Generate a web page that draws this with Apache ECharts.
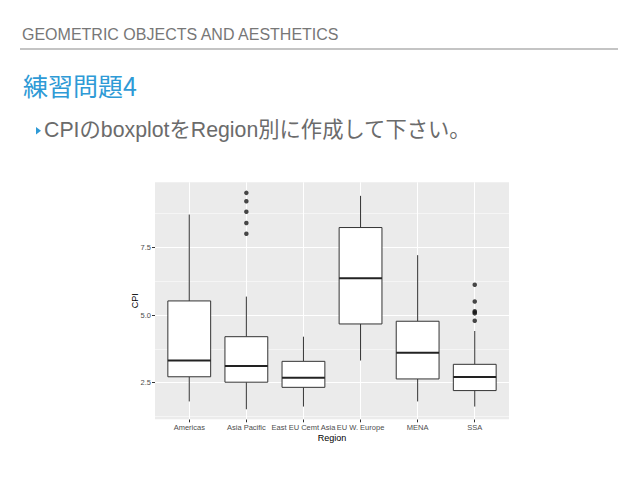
<!DOCTYPE html>
<html><head><meta charset="utf-8">
<script src="https://cdn.jsdelivr.net/npm/echarts@6/dist/echarts.min.js"></script>
<style>html,body{margin:0;padding:0;background:#fff}#c{width:638px;height:479px}</style>
</head><body><div id="c"></div>
<script>
const categories = ['Americas', 'Asia Pacific', 'East EU Cemt Asia', 'EU W. Europe', 'MENA', 'SSA'];
const whiskerLow  = [1.81, 1.52, 1.62, 3.32, 1.81, 1.62];
const q1          = [2.72, 2.52, 2.33, 4.67, 2.64, 2.21];
const median      = [3.32, 3.12, 2.68, 6.36, 3.61, 2.71];
const q3          = [5.52, 4.20, 3.29, 8.23, 4.77, 3.18];
const whiskerHigh = [8.71, 5.68, 4.20, 9.40, 7.21, 4.41];
const outliersAsiaPacific = [9.51, 9.20, 8.81, 8.40, 8.00];
const outliersSSA = [6.12, 5.50, 5.14, 5.10, 5.06, 4.79];
const yMajor = [2.5, 5.0, 7.5];
const yMinor = [1.25, 3.75, 6.25, 8.75];
const catPositions = categories.map((c, i) => i + 1);

const boxData = categories.map((c, i) => [i + 1, whiskerLow[i], q1[i], median[i], q3[i], whiskerHigh[i]]);
const outlierData = outliersAsiaPacific.map(v => [2, v]).concat(outliersSSA.map(v => [6, v]));

const FONT = "'Liberation Sans', Arial, sans-serif";
const CJK = "'Noto Sans CJK JP', sans-serif";
const MIX = "'Liberation Sans', 'Noto Sans CJK JP', sans-serif";

const chart = echarts.init(document.getElementById('c'), null, {renderer: 'svg'});
chart.setOption({
  animation: false,
  backgroundColor: '#fff',
  title: [
    {text: 'GEOMETRIC OBJECTS AND AESTHETICS', left: 22, top: 26, padding: 0,
     textStyle: {fontSize: 16, color: '#777', fontWeight: 'normal', fontFamily: FONT}},
    {text: '練習問題4', left: 23, top: 72.5, padding: 0,
     textStyle: {fontSize: 25, color: '#2e9ad6', fontWeight: 'normal', fontFamily: CJK}},
    {text: 'CPIのboxplotをRegion別に作成して下さい。', left: 44, top: 119.5, padding: 0,
     textStyle: {fontSize: 21.3, color: '#6b6b6b', fontWeight: 'normal', fontFamily: MIX}}
  ],
  graphic: [
    {type: 'line', shape: {x1: 20, y1: 49, x2: 618, y2: 49}, style: {stroke: '#c4c4c4', lineWidth: 2}, silent: true},
    {type: 'polygon', shape: {points: [[36, 127], [36, 134.5], [41, 130.75]]}, style: {fill: '#2e9ad6'}, silent: true}
  ],
  grid: {left: 155, top: 182.3, width: 354, height: 237, show: true, backgroundColor: '#ebebeb', borderWidth: 0, outerBoundsMode: 'none'},
  xAxis: {
    type: 'value', min: 0.4, max: 6.6,
    axisLine: {show: false}, splitLine: {show: false},
    axisTick: {show: true, customValues: catPositions, length: 3, lineStyle: {color: '#333', width: 1}},
    axisLabel: {customValues: catPositions, formatter: v => categories[Math.round(v) - 1] || '',
                color: '#4d4d4d', fontSize: 7.5, margin: 4, fontFamily: FONT},
    name: 'Region', nameLocation: 'middle', nameGap: 14,
    nameTextStyle: {color: '#000', fontSize: 9, fontFamily: FONT}
  },
  yAxis: {
    type: 'value', min: 1.15, max: 9.9,
    axisLine: {show: false}, splitLine: {show: false},
    axisTick: {show: true, customValues: yMajor, length: 3, lineStyle: {color: '#333', width: 1}},
    axisLabel: {customValues: yMajor, formatter: v => v.toFixed(1),
                color: '#4d4d4d', fontSize: 7.5, margin: 4, fontFamily: FONT},
    name: 'CPI', nameLocation: 'middle', nameGap: 16, nameRotate: 90, nameMoveOverlap: false,
    nameTextStyle: {color: '#000', fontSize: 9, fontFamily: FONT}
  },
  series: [
    {
      type: 'line', data: [], silent: true,
      markLine: {
        silent: true, z: 1, symbol: ['none', 'none'], label: {show: false},
        lineStyle: {color: '#fff', type: 'solid', width: 1.1},
        emphasis: {disabled: true},
        data: yMajor.map(v => ({yAxis: v, lineStyle: {width: 1.1}}))
          .concat(yMinor.map(v => ({yAxis: v, lineStyle: {width: 0.5}})))
          .concat(catPositions.map(v => ({xAxis: v, lineStyle: {width: 1.1}})))
      }
    },
    {
      type: 'custom', z: 3, data: boxData, silent: true,
      encode: {x: 0, y: [1, 2, 3, 4, 5]},
      renderItem: function (params, api) {
        const x = api.value(0);
        const lo = api.coord([x, api.value(1)]);
        const b1 = api.coord([x, api.value(2)]);
        const md = api.coord([x, api.value(3)]);
        const b3 = api.coord([x, api.value(4)]);
        const hi = api.coord([x, api.value(5)]);
        const w = api.size([0.75, 0])[0];
        const stroke = '#333';
        return {type: 'group', children: [
          {type: 'line', shape: {x1: lo[0], y1: lo[1], x2: b1[0], y2: b1[1]}, style: {stroke: stroke, lineWidth: 1}},
          {type: 'line', shape: {x1: b3[0], y1: b3[1], x2: hi[0], y2: hi[1]}, style: {stroke: stroke, lineWidth: 1}},
          {type: 'rect', shape: {x: b3[0] - w / 2, y: b3[1], width: w, height: b1[1] - b3[1]}, style: {fill: '#fff', stroke: stroke, lineWidth: 1}},
          {type: 'line', shape: {x1: md[0] - w / 2, y1: md[1], x2: md[0] + w / 2, y2: md[1]}, style: {stroke: '#222', lineWidth: 2}}
        ]};
      }
    },
    {
      type: 'scatter', z: 4, data: outlierData, symbolSize: 4.5, silent: true,
      itemStyle: {color: '#1a1a1a'}
    }
  ]
});
</script>
</body></html>
